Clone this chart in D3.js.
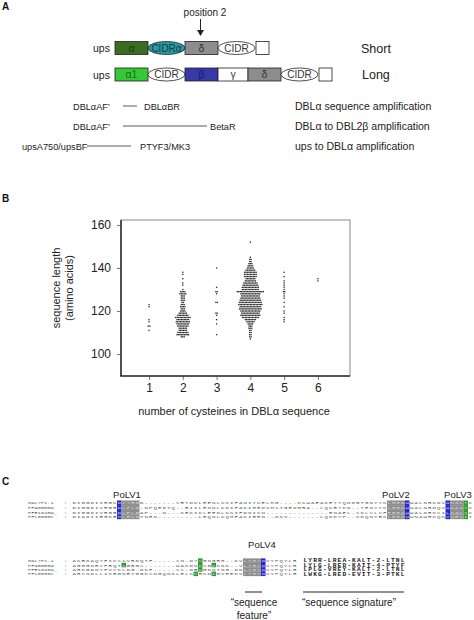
<!DOCTYPE html>
<html>
<head>
<meta charset="utf-8">
<script src="https://cdn.jsdelivr.net/npm/d3@7"></script>
<style>
  body { margin: 0; background: #fff; }
  svg { display: block; font-family: "Liberation Sans", Arial, sans-serif; }
</style>
</head>
<body>
<div id="chart"></div>
<script>
// ---- Panel A: domain architecture and primers
const shortDomains = ["α", "CIDRα", "δ", "CIDR", "end"];
const longDomains = ["α1", "CIDR", "β", "γ", "δ", "CIDR", "end"];
const primerPairs = [
    ["DBLαAF'", "DBLαBR", "DBLα sequence amplification"],
    ["DBLαAF'", "BetaR", "DBLα to DBL2β amplification"],
    ["upsA750/upsBF", "PTYF3/MK3", "ups to DBLα amplification"]
];

// ---- Panel B: sequence length counts per cysteine group, [length, count]
const cysteineGroups = [1, 2, 3, 4, 5, 6];
const cys1 = [[123,1],[122,1],[116,1],[115,1],[113,2],[111,1]];
const cys2 = [[138,1],[137,1],[135,1],[133,1],[132,1],[130,1],[129,4],[128,5],[127,3],[126,3],[125,3],[124,2],
    [123,3],[122,4],[121,3],[120,4],[119,6],[118,8],[117,11],[116,9],[115,10],[114,9],[113,8],[112,6],[111,6],
    [110,8],[109,9],[108,3]];
const cys3 = [[140,1],[131,1],[129,2],[128,1],[124,2],[119,2],[118,1],[116,1],[114,1],[109,1]];
const cys4 = [[152,1],[145,1],[144,2],[143,2],[142,3],[141,4],[140,5],[139,7],[138,9],[137,9],[136,9],[135,7],
    [134,8],[133,10],[132,11],[131,12],[130,12],[129,19],[128,14],[127,13],[126,14],[125,15],[124,16],[123,17],
    [122,15],[121,16],[120,14],[119,13],[118,14],[117,12],[116,8],[115,6],[114,4],[113,3],[112,3],[111,2],
    [110,2],[109,2],[108,2],[107,1]];
const cys5 = [[138,1],[136,1],[134,1],[133,1],[132,1],[131,1],[130,1],[129,2],[128,1],[127,1],[126,1],[124,1],
    [122,1],[120,1],[119,1],[117,1],[116,1],[115,1]];
const cys6 = [[135,1],[134,1]];
const yTicks = [100, 120, 140, 160];

// ---- Panel C: alignment
const seqNames = ["MAL7P1.1", "PFA0005w", "PFE1640w_", "PFL0030c"];
const block1Seqs = [
    "DIGGDIIRGKDLYRGD-------SRTDKLEENLKKIFANIYKELMG----KKWAEAKEYYQDDGTGNYYKLREAWWALNRKDVWKALTC",
    "DIGGDIVRGRDLFLG-NPQEDTQ--RIILENNLKDIFAKIHEDVMSTGENGRA--LQKRYKD--TENYYKLREKWWALNRDQVWKAITC",
    "DIGGDIVRGRDLFLGAP---N---KEKIKLEENLKKIFDNIKN--------------ENAEL-SKLSLSFFREKWWALNRKSILKALTC",
    "DIADIIRGKRDLRKGTNEN---------LEQNLKQMFAKIREN--DKV-------LQDKYP--KDQNYRKLREDWWNAWRKQKVWEVIT"
];
const block2Seqs = [
    "AKRDAQYFIKSSVRDQTF-----SN-DYSGNGRH--KVLYHYDVYPQYLR",
    "AGGGNRYFRQTSGRGS-------WAKDNCSGCKDK--VLYRYDVYPQYLR",
    "ARKGANYFVYKLDG-DKF-----SS-DRCGNNTNG-DDLYHYDVYPQYLR",
    "ARSNDLLIKRGNRTGGKSNGQNKLELKCRKDCHVEEKVLYHYDVYPQYLR"
];
const signatures = ["LYRR-LREA-KALT-2-LTNL", "LYLG-LRED-KAIT-4-PTYF", "LPLG-VREY-KALT-2-LTNL", "LWKG-LRED-EVIT-3-PTKL"];
// highlighted alignment columns: [first, last, colour]
const block1Marks = [[10,10,"blue"],[11,14,"gray"],[70,73,"gray"],[74,74,"blue"],[83,83,"blue"],[84,86,"gray"],[87,87,"green"]];
const block2Marks = [[38,41,"gray"],[42,42,"blue"]];
const block2Green = [[28], [11, 28, 31], [28], [27, 31]];

const W = 474, H = 620;
const svg = d3.select("#chart").append("svg").attr("width", W).attr("height", H);

// panel letters
[["A", 2, 10], ["B", 2, 202], ["C", 2, 485]].forEach(p => {
    svg.append("text").attr("x", p[1]).attr("y", p[2]).text(p[0])
        .style("font-size", "10px").style("font-weight", "bold").attr("fill", "#111");
});

// ======== Panel A ========
const gA = svg.append("g");
const fills = {"α": "#3d6b22", "α1": "#35c935", "β": "#3838a6", "γ": "#ffffff", "δ": "#8d8d8d", "CIDRα": "#2b98a3", "CIDR": "#ffffff", "end": "#ffffff"};
const textFill = {"α": "#1c3a10", "α1": "#1e6b1e", "β": "#1c1c70", "γ": "#444", "δ": "#333", "CIDRα": "#0f3f45", "CIDR": "#333"};
function widthOf(d) {
    if (d.startsWith("CIDR")) return 37;
    if (d === "γ") return 30;
    if (d === "end") return 13;
    return 33;
}
function drawArch(domains, yc, label, labelX) {
    let x = 115;
    gA.append("text").attr("x", 93).attr("y", yc + 4).text("ups").style("font-size", "10.5px").attr("fill", "#222");
    domains.forEach(d => {
        const w = widthOf(d);
        if (d.startsWith("CIDR")) {
            gA.append("ellipse").attr("cx", x + w / 2).attr("cy", yc).attr("rx", w / 2).attr("ry", 6.5)
                .attr("fill", fills[d]).attr("stroke", "#222").attr("stroke-width", 0.8);
        } else {
            const xx = d === "end" ? x + 1 : x;
            gA.append("rect").attr("x", xx).attr("y", yc - 6.5).attr("width", w).attr("height", 13)
                .attr("fill", fills[d]).attr("stroke", "#222").attr("stroke-width", 0.8);
        }
        if (d !== "end") {
            gA.append("text").attr("x", x + w / 2).attr("y", yc + 3.8).attr("text-anchor", "middle")
                .text(d).style("font-size", d.startsWith("CIDR") ? "10px" : "10.5px").attr("fill", textFill[d]);
        }
        x += w;
    });
    gA.append("text").attr("x", labelX).attr("y", yc + 4.5).text(label).style("font-size", "12.5px").attr("fill", "#222");
}
drawArch(shortDomains, 48, "Short", 361);
drawArch(longDomains, 74.5, "Long", 362);

// position 2 arrow
gA.append("text").attr("x", 205).attr("y", 16).attr("text-anchor", "middle").text("position 2")
    .style("font-size", "10px").attr("fill", "#222");
gA.append("line").attr("x1", 200.5).attr("x2", 200.5).attr("y1", 19).attr("y2", 31).attr("stroke", "#222").attr("stroke-width", 1);
gA.append("path").attr("d", "M197,30 L204,30 L200.5,36 Z").attr("fill", "#222");

// primers
const primerLayout = [
    {fx: 73, lx1: 123, lx2: 137, rx: 144, y: 106},
    {fx: 73, lx1: 123, lx2: 207, rx: 210, y: 126},
    {fx: 22, lx1: 87, lx2: 131, rx: 140, y: 146}
];
primerPairs.forEach((p, i) => {
    const l = primerLayout[i];
    gA.append("text").attr("x", l.fx).attr("y", l.y + 3.5).text(p[0]).style("font-size", "9.2px").attr("fill", "#222");
    gA.append("line").attr("x1", l.lx1).attr("x2", l.lx2).attr("y1", l.y).attr("y2", l.y).attr("stroke", "#333").attr("stroke-width", 0.8);
    gA.append("text").attr("x", l.rx).attr("y", l.y + 3.5).text(p[1]).style("font-size", "9.2px").attr("fill", "#222");
    gA.append("text").attr("x", 295).attr("y", l.y + 4).text(p[2]).style("font-size", "10.5px").attr("fill", "#222");
});

// ======== Panel B ========
const gB = svg.append("g");
const x = d3.scaleLinear().domain([0.17, 6.95]).range([121, 350]);
const y = d3.scaleLinear().domain([89.8, 162.3]).range([376, 220]);
const dotStep = 1.45;

gB.append("rect").attr("x", 121).attr("y", 220).attr("width", 229).attr("height", 156)
    .attr("fill", "none").attr("stroke", "#888").attr("stroke-width", 1);

const groups = [cys1, cys2, cys3, cys4, cys5, cys6];
const dots = [];
groups.forEach((g, gi) => {
    g.forEach(([len, n]) => {
        for (let i = 0; i < n; i++) dots.push({cys: cysteineGroups[gi], len: len, off: (i - (n - 1) / 2) * dotStep});
    });
});
gB.selectAll("rect.dot").data(dots).enter().append("rect").attr("class", "dot")
    .attr("x", d => x(d.cys) + d.off - 0.65).attr("y", d => y(d.len) - 0.65)
    .attr("width", 1.3).attr("height", 1.3).attr("fill", "#2a2a2a");

const yAxis = gB.append("g").attr("transform", "translate(121,0)")
    .call(d3.axisLeft(y).tickValues(yTicks).tickSize(4).tickPadding(6).tickFormat(d3.format("d")));
const xAxis = gB.append("g").attr("transform", "translate(0,376)")
    .call(d3.axisBottom(x).tickValues(cysteineGroups).tickSize(4).tickPadding(3).tickFormat(d3.format("d")));
[yAxis, xAxis].forEach(a => {
    a.select(".domain").remove();
    a.selectAll("line").attr("stroke", "#777");
    a.selectAll("text").style("font-size", "12px").style("font-family", "'Liberation Sans', Arial, sans-serif").attr("fill", "#222");
});
gB.append("line").attr("x1", 121).attr("x2", 121).attr("y1", 220).attr("y2", 376).attr("stroke", "#333").attr("stroke-width", 1.6);
gB.append("line").attr("x1", 120.2).attr("x2", 350).attr("y1", 376).attr("y2", 376).attr("stroke", "#333").attr("stroke-width", 1.6);

gB.append("text").attr("transform", "translate(60,288) rotate(-90)").attr("text-anchor", "middle")
    .text("sequence length").style("font-size", "11px").attr("fill", "#222");
gB.append("text").attr("transform", "translate(73,288) rotate(-90)").attr("text-anchor", "middle")
    .text("(amino acids)").style("font-size", "11px").attr("fill", "#222");
gB.append("text").attr("x", 234).attr("y", 415).attr("text-anchor", "middle")
    .text("number of cysteines in DBLα sequence").style("font-size", "11px").attr("fill", "#222");

// ======== Panel C ========
const gC = svg.append("g");
const markColor = {blue: "#2424d0", gray: "#8e8e8e", green: "#2f9a2f"};
const col = d3.scaleLinear().domain([0, 1]).range([72, 76.5]);
const mono = "'Liberation Mono', 'DejaVu Sans Mono', monospace";

function drawBlock(seqs, y0, step, marks, greens) {
    seqs.forEach((s, r) => {
        const yc = y0 + r * step;
        const rowMarks = marks.slice();
        if (greens) greens[r].forEach(c => rowMarks.push([c, c, "green"]));
        rowMarks.forEach(m => {
            gC.append("rect").attr("x", col(m[0])).attr("y", yc - step / 2)
                .attr("width", col(m[1] + 1) - col(m[0])).attr("height", step + 0.1)
                .attr("fill", markColor[m[2]]);
        });
        gC.append("text").attr("transform", `translate(28,${yc + 1.6}) scale(1.25,1)`).text(seqNames[r])
            .style("font-family", mono).style("font-size", "4.3px").attr("fill", "#555");
        gC.append("text").attr("transform", `translate(64,${yc + 1.6}) scale(1.25,1)`).text(":")
            .style("font-family", mono).style("font-size", "4.3px").attr("fill", "#555");
        const chars = s.split("").map((c, i) => ({c, i}));
        gC.selectAll(null).data(chars).enter().append("text")
            .attr("transform", d => `translate(${col(d.i) + 2.25},${yc + 1.6}) scale(1.35,1)`)
            .attr("text-anchor", "middle")
            .text(d => d.c)
            .style("font-family", mono).style("font-size", "4.3px")
            .attr("fill", d => rowMarks.some(m => d.i >= m[0] && d.i <= m[1]) ? "#d8d8d8" : "#555");
    });
}
drawBlock(block1Seqs, 502.8, 4.65, block1Marks, null);
drawBlock(block2Seqs, 560.6, 4.4, block2Marks, block2Green);

// PoLV labels
[["PoLV1", 127], ["PoLV2", 396], ["PoLV3", 458]].forEach(p => {
    gC.append("text").attr("x", p[1]).attr("y", 497.5).attr("text-anchor", "middle").text(p[0])
        .style("font-size", "9.5px").attr("fill", "#222");
});
gC.append("text").attr("x", 262).attr("y", 548).attr("text-anchor", "middle").text("PoLV4")
    .style("font-size", "9.5px").attr("fill", "#222");

// sequence signature
const sigCol = d3.scaleLinear().domain([0, 1]).range([303, 307.86]);
signatures.forEach((s, r) => {
    const yc = 560.6 + r * 4.4;
    gC.selectAll(null).data(s.split("").map((c, i) => ({c, i}))).enter().append("text")
        .attr("transform", d => `translate(${sigCol(d.i) + 2.4},${yc + 1.7}) scale(1.4,1)`)
        .attr("text-anchor", "middle").text(d => d.c)
        .style("font-family", mono).style("font-size", "4.5px")
        .style("font-weight", "bold").attr("fill", "#222");
});

gC.append("line").attr("x1", 245).attr("x2", 262).attr("y1", 592).attr("y2", 592).attr("stroke", "#222").attr("stroke-width", 1);
gC.append("line").attr("x1", 303).attr("x2", 404).attr("y1", 592).attr("y2", 592).attr("stroke", "#222").attr("stroke-width", 1);
gC.append("text").attr("x", 254).attr("y", 606).attr("text-anchor", "middle").text("\u201csequence")
    .style("font-size", "10px").attr("fill", "#222");
gC.append("text").attr("x", 254).attr("y", 618.5).attr("text-anchor", "middle").text("feature\u201d")
    .style("font-size", "10px").attr("fill", "#222");
gC.append("text").attr("x", 349).attr("y", 606).attr("text-anchor", "middle").text("\u201csequence signature\u201d")
    .style("font-size", "10px").attr("fill", "#222");
</script>
</body>
</html>
